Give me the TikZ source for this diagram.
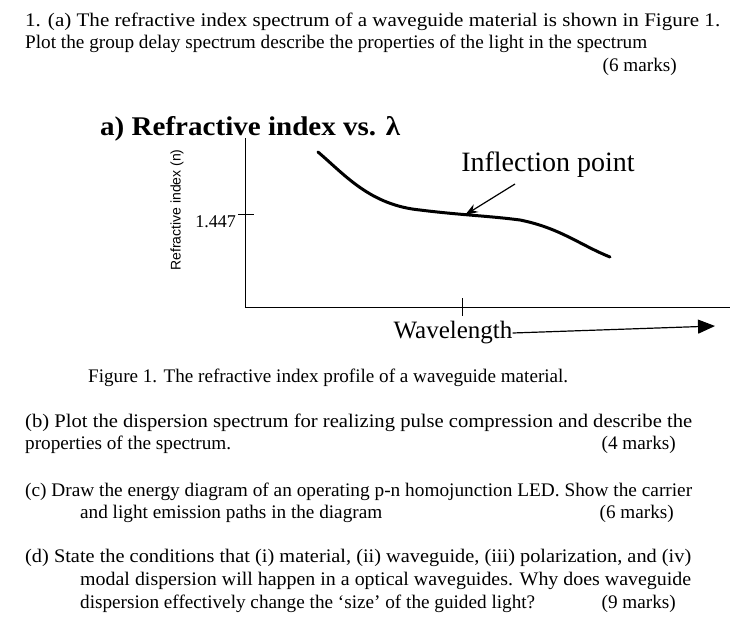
\documentclass[tikz,border=0pt]{standalone}
\usepackage{fontspec}
\usepackage{graphicx}
\setmainfont{Liberation Serif}
\newfontfamily\sansf{Liberation Sans}
\usetikzlibrary{arrows.meta}
\newsavebox\fitbox
\newcommand\fitline[2]{\sbox\fitbox{#2}\pgfmathsetmacro\sfac{#1/\wd\fitbox}\scalebox{\sfac}[1]{\usebox\fitbox}}
\begin{document}
\begin{tikzpicture}[x=1pt,y=-1pt,
  txt/.style={anchor=base west,inner sep=0pt,font=\fontsize{19.2}{21}\selectfont},
  rtxt/.style={anchor=base east,inner sep=0pt,font=\fontsize{19.2}{21}\selectfont},
  axis/.style={line width=1pt}]
\useasboundingbox[fill=white] (0,0) rectangle (738,632);
\node[txt] (l1) at (25,26) {\fitline{695pt}{1. (a) The refractive index spectrum of a waveguide material is shown in Figure 1.}};
\node[txt] (l2) at (25,48) {\fitline{622pt}{Plot the group delay spectrum describe the properties of the light in the spectrum}};
\node[rtxt] (m1) at (677,71) {(6 marks)};
% figure
\node[anchor=base west,inner sep=0pt,font=\fontsize{27}{29}\selectfont\bfseries] (title) at (100,135) {\fitline{300pt}{a) Refractive index vs. λ}};
\coordinate (o) at (245,307);
\coordinate (ytop) at (245,138);
\coordinate (xend) at (730,307);
\draw[axis] (ytop) -- (o) -- (xend);
\coordinate (yt1) at (238,214); \coordinate (yt2) at (254,214);
\draw[axis] (yt1) -- (yt2);
\coordinate (xt1) at (462,298); \coordinate (xt2) at (462,316);
\draw[axis] (xt1) -- (xt2);
\node[anchor=base east,inner sep=0pt,font=\fontsize{18}{20}\selectfont] (v) at (236,227) {1.447};
\node[rotate=90,inner sep=0pt,font=\sansf\fontsize{14}{16}\selectfont] (ylab) at (177,210) {Refractive index (n)};
\draw[line width=3pt,line cap=round] (318,152) .. controls (345,175) and (370,205) .. (420,210)
  .. controls (460,215) and (490,216) .. (520,220) .. controls (560,228) and (580,245) .. (610,257);
\node[inner sep=0pt,font=\fontsize{28}{30}\selectfont] (ip) at (548,165) {Inflection point};
\coordinate (ipa) at (515,184); \coordinate (ipb) at (465,215);
\draw[line width=1.2pt,-{Stealth[length=13pt,width=9pt]}] (ipa) -- (ipb);
\node[inner sep=0pt,font=\fontsize{25}{27}\selectfont] (wl) at (453,333) {Wavelength};
\coordinate (wa) at (715,326);
\draw[line width=1.2pt,-{Triangle[length=17pt,width=14pt]}] (wl.east) -- (wa);
\node[txt] (cap) at (88,382) {\fitline{480pt}{Figure 1. The refractive index profile of a waveguide material.}};
% (b)
\node[txt] (b1) at (25,427) {\fitline{667pt}{(b) Plot the dispersion spectrum for realizing pulse compression and describe the}};
\node[txt] (b2) at (25,449) {\fitline{206pt}{properties of the spectrum.}};
\node[rtxt] (m2) at (676,449) {(4 marks)};
% (c)
\node[txt] (c1) at (25,496) {\fitline{667pt}{(c) Draw the energy diagram of an operating p-n homojunction LED. Show the carrier}};
\node[txt] (c2) at (80,518) {\fitline{302pt}{and light emission paths in the diagram}};
\node[rtxt] (m3) at (674,518) {(6 marks)};
% (d)
\node[txt] (d1) at (25,562) {\fitline{666pt}{(d) State the conditions that (i) material, (ii) waveguide, (iii) polarization, and (iv)}};
\node[txt] (d2) at (80,585) {\fitline{611pt}{modal dispersion will happen in a optical waveguides. Why does waveguide}};
\node[txt] (d3) at (80,608) {\fitline{455pt}{dispersion effectively change the ‘size’ of the guided light?}};
\node[rtxt] (m4) at (676,608) {(9 marks)};
\end{tikzpicture}
\end{document}
